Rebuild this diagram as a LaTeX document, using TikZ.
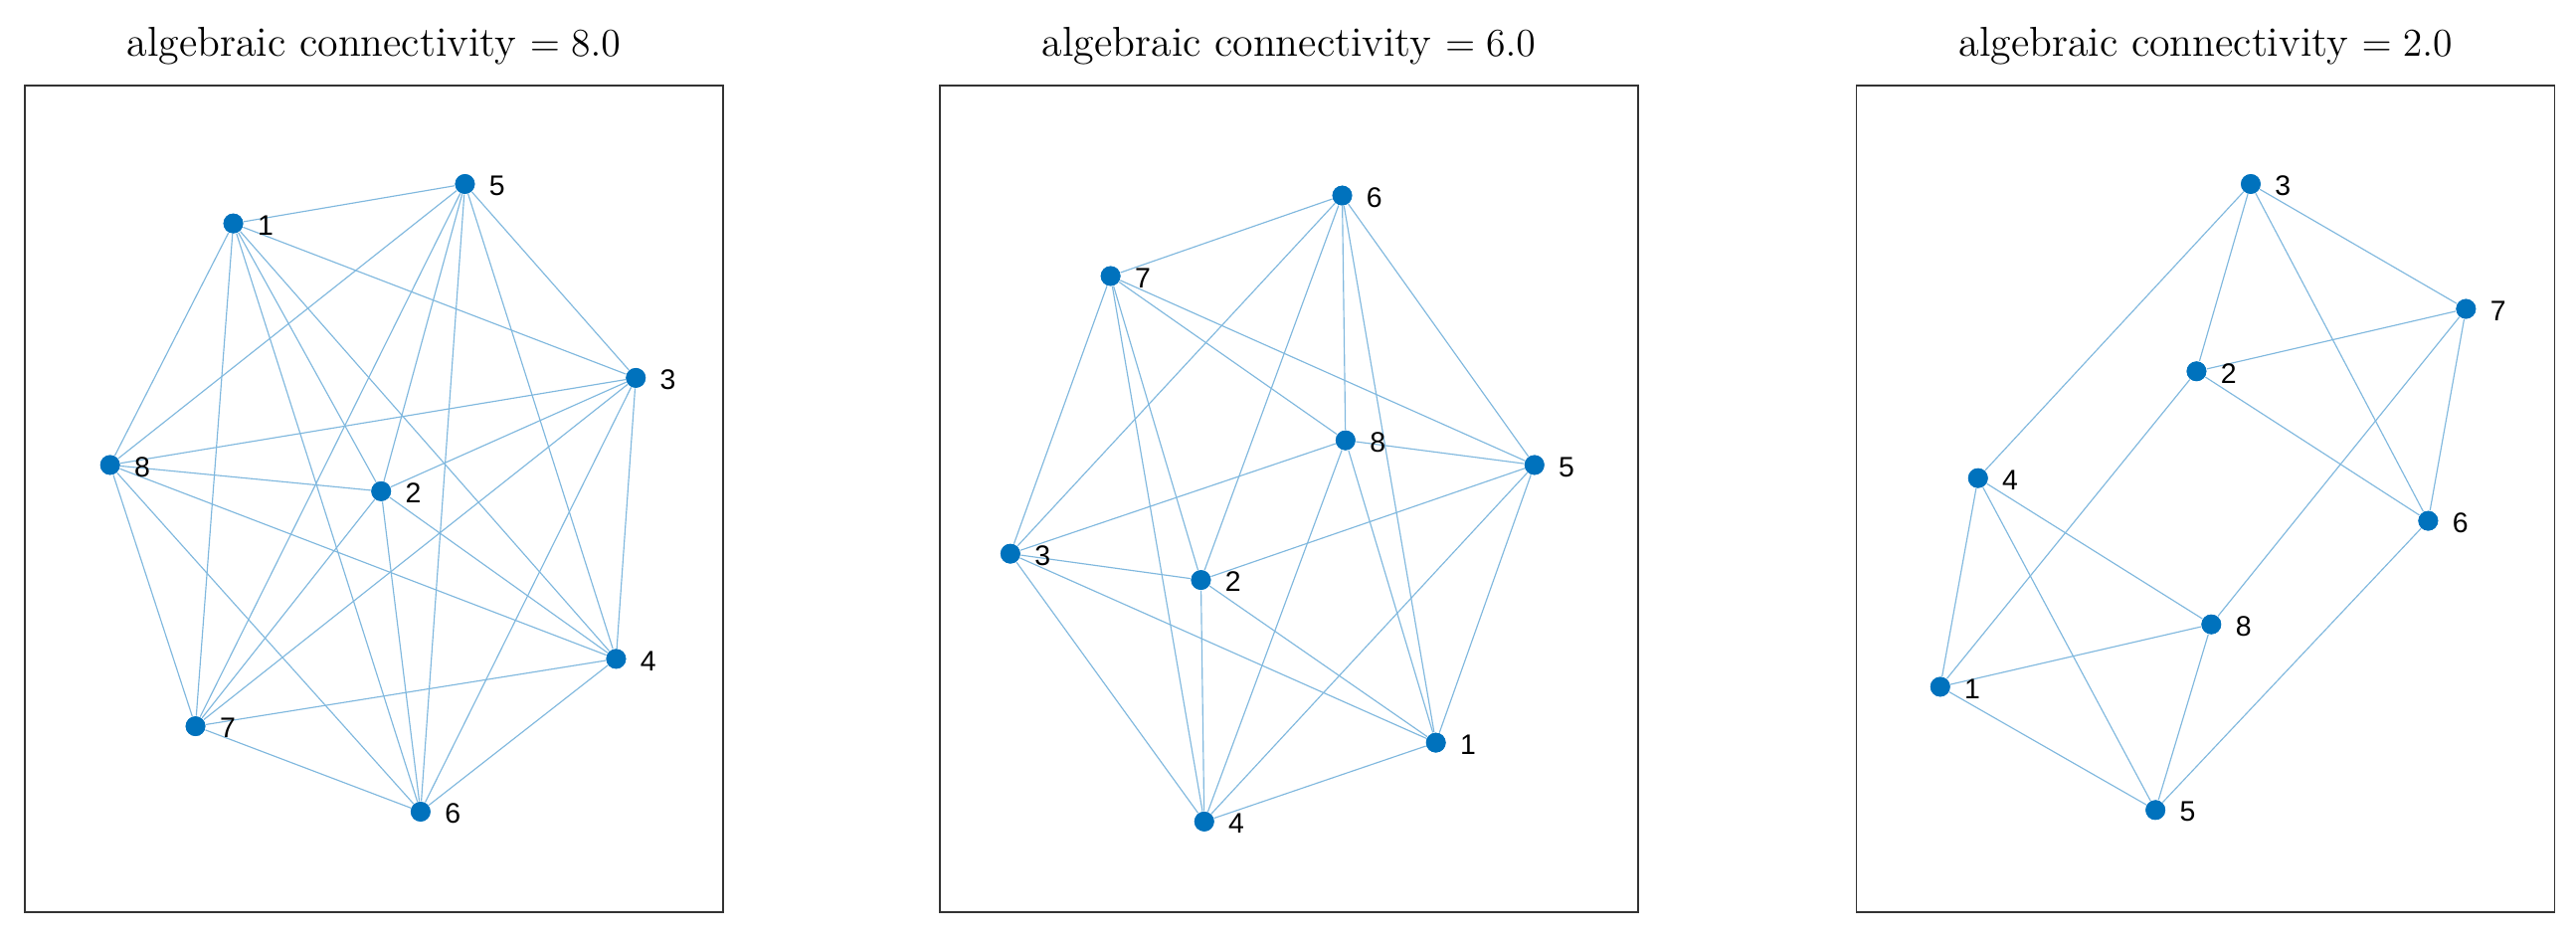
\documentclass[tikz,border=0pt]{standalone}
\usepackage{fontspec}
\newfontfamily\lab{Liberation Sans}
\begin{document}
\begin{tikzpicture}[x=0.5pt,y=-0.5pt,
  vtx/.style={circle,fill=mblue,inner sep=0pt,minimum size=6pt},
  lbl/.style={font=\lab\fontsize{8.6}{10}\selectfont,anchor=west,inner sep=0pt,xshift=4pt,yshift=-0.6pt},
  edge/.style={draw=mblue!50,line width=0.35pt},
  frame/.style={draw=black!80,line width=0.5pt},
  ttl/.style={font=\fontsize{12.7}{14}\selectfont}]
\definecolor{mblue}{RGB}{0,114,189}
\useasboundingbox (0,0) rectangle (1568,571.4);
\draw[frame] (15,52) rectangle (440,555);
\draw[frame] (572,52) rectangle (997,555);
\draw[frame] (1130,52) rectangle (1555,555);
\node[ttl] (t1) at (227.5,28) {algebraic connectivity $=8.0$};
\node[ttl] (t2) at (784.5,28) {algebraic connectivity $=6.0$};
\node[ttl] (t3) at (1342.5,28) {algebraic connectivity $=2.0$};
% panel 1
\foreach \n/\x/\y in {1/142/136,5/283/112,3/387/230,8/67/283,2/232/299,4/375/401,7/119/442,6/256/494}
  \node[vtx] (a\n) at (\x,\y) {};
\begin{scope}[on background layer/.style={}]
\foreach \i in {1,...,8}{\foreach \j in {1,...,8}{\ifnum\i<\j \draw[edge] (a\i) -- (a\j);\fi}}
\end{scope}
\foreach \n/\x/\y in {1/142/136,5/283/112,3/387/230,8/67/283,2/232/299,4/375/401,7/119/442,6/256/494}
  {\node[vtx] at (\x,\y) {}; \node[lbl] (la\n) at (a\n.east) {\n};}
% panel 2
\foreach \n/\x/\y in {6/817/119,7/676/168,8/819/268,5/934/283,3/615/337,2/731/353,1/874/452,4/733/500}
  \node[vtx] (b\n) at (\x,\y) {};
\foreach \i/\j in {6/7,6/3,6/2,6/8,6/5,6/1,7/3,7/4,7/2,7/8,7/5,8/3,8/5,8/4,8/1,5/2,5/4,5/1,3/2,3/1,3/4,2/1,2/4,1/4}
  \draw[edge] (b\i) -- (b\j);
\foreach \n/\x/\y in {6/817/119,7/676/168,8/819/268,5/934/283,3/615/337,2/731/353,1/874/452,4/733/500}
  {\node[vtx] at (\x,\y) {}; \node[lbl] (lb\n) at (b\n.east) {\n};}
% panel 3
\foreach \n/\x/\y in {3/1370/112,7/1501/188,2/1337/226,4/1204/291,6/1478/317,8/1346/380,1/1181/418,5/1312/493}
  \node[vtx] (c\n) at (\x,\y) {};
\foreach \i/\j in {3/4,3/2,3/6,3/7,7/2,7/8,7/6,2/6,2/1,4/1,4/8,4/5,1/8,1/5,8/5,5/6}
  \draw[edge] (c\i) -- (c\j);
\foreach \n/\x/\y in {3/1370/112,7/1501/188,2/1337/226,4/1204/291,6/1478/317,8/1346/380,1/1181/418,5/1312/493}
  {\node[vtx] at (\x,\y) {}; \node[lbl] (lc\n) at (c\n.east) {\n};}
\end{tikzpicture}
\end{document}
